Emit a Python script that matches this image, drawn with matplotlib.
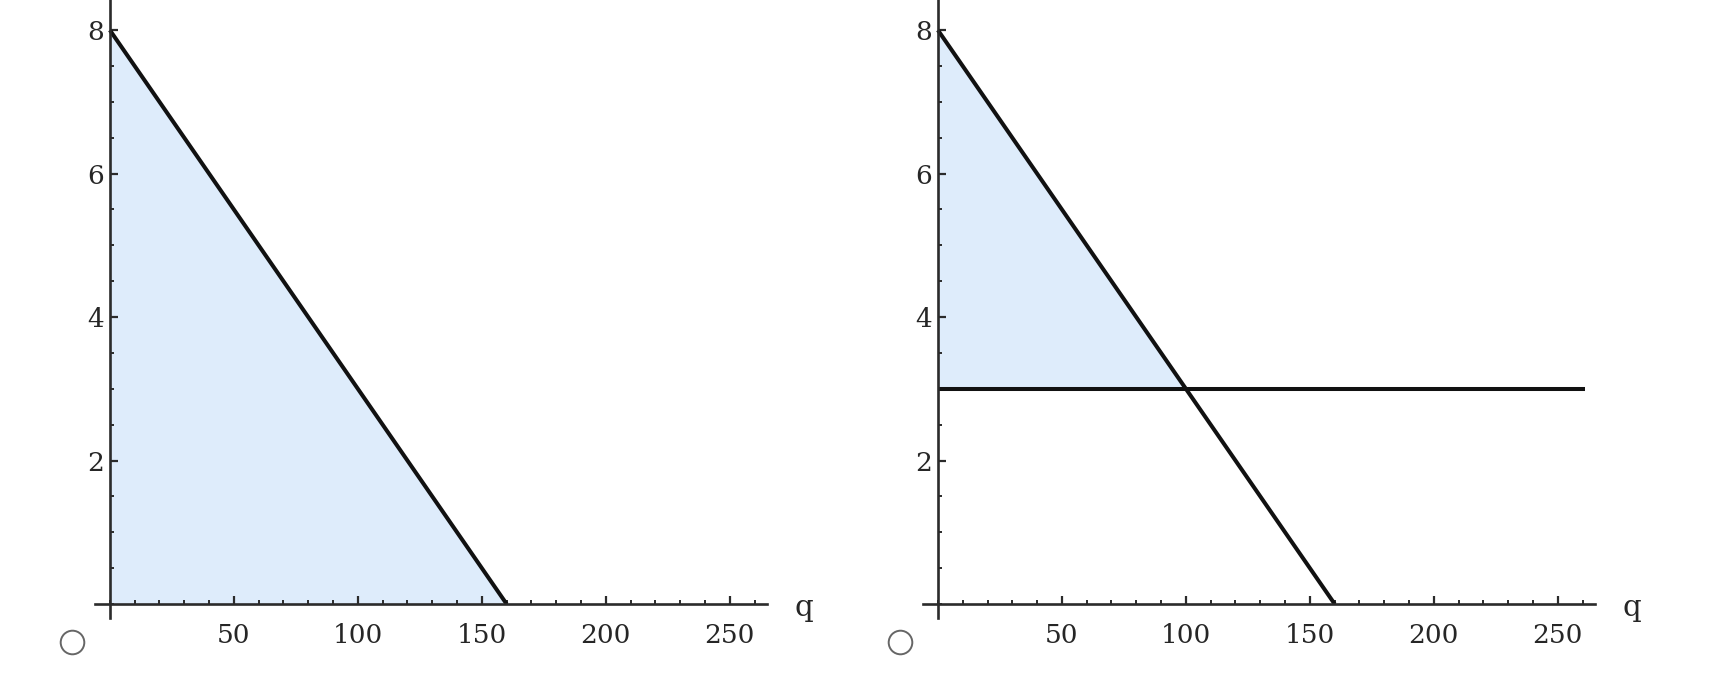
import matplotlib
matplotlib.use("Agg")
import matplotlib.pyplot as plt
from matplotlib.ticker import MultipleLocator, FixedLocator

# demand curve (q, p)
demand_q = [0, 160]
demand_p = [8, 0]

# horizontal price line in the right panel
price = 3
price_q = [0, 261]

# shaded area in the right panel (between demand and price)
surplus_q = [0, 100]
surplus_p = [8, 3]

x_ticks = [50, 100, 150, 200, 250]
y_ticks = [2, 4, 6, 8]

ink = "#2b2b2b"
fill_col = "#deecfb"

plt.rcParams["font.family"] = ["DejaVu Serif"]

fig = plt.figure(figsize=(17.24, 6.94), dpi=100)

ax1 = fig.add_axes([0.0551, 0.109, 0.3898, 0.891])
ax2 = fig.add_axes([0.5354, 0.109, 0.3898, 0.891])

for ax in (ax1, ax2):
    ax.set_xlim(-6, 265)
    ax.set_ylim(-0.2, 8.42)
    ax.spines["top"].set_visible(False)
    ax.spines["right"].set_visible(False)
    ax.spines["left"].set_position(("data", 0))
    ax.spines["bottom"].set_position(("data", 0))
    for s in ("left", "bottom"):
        ax.spines[s].set_linewidth(1.9)
        ax.spines[s].set_color(ink)
    ax.xaxis.set_major_locator(FixedLocator(x_ticks))
    ax.xaxis.set_minor_locator(MultipleLocator(10))
    ax.yaxis.set_major_locator(FixedLocator(y_ticks))
    ax.yaxis.set_minor_locator(MultipleLocator(0.5))
    ax.tick_params(which="major", direction="in", length=6, width=1.6, color=ink,
                   labelsize=19, labelcolor="#262626")
    ax.tick_params(which="minor", direction="in", length=3, width=1.4, color=ink)
    ax.tick_params(axis="x", which="major", pad=14)
    ax.tick_params(axis="y", which="major", pad=4)
    ax.text(276, -0.05, "q", fontsize=21, color="#262626", va="center", ha="left",
            clip_on=False)
    # radio-button circle under each panel
    ax.plot([-15.3], [-0.53], marker="o", markersize=17, mfc="white", mec="#666666",
            mew=1.4, clip_on=False)

# left panel
ax1.fill_between(demand_q, demand_p, 0, color=fill_col, lw=0)
ax1.plot(demand_q, demand_p, color="#111111", lw=2.9, solid_capstyle="butt")

# right panel
ax2.fill_between(surplus_q, surplus_p, price, color=fill_col, lw=0)
ax2.plot(price_q, [price, price], color="#111111", lw=2.9, solid_capstyle="butt")
ax2.plot(demand_q, demand_p, color="#111111", lw=2.9, solid_capstyle="butt")

fig.savefig("out.png", dpi=100)
